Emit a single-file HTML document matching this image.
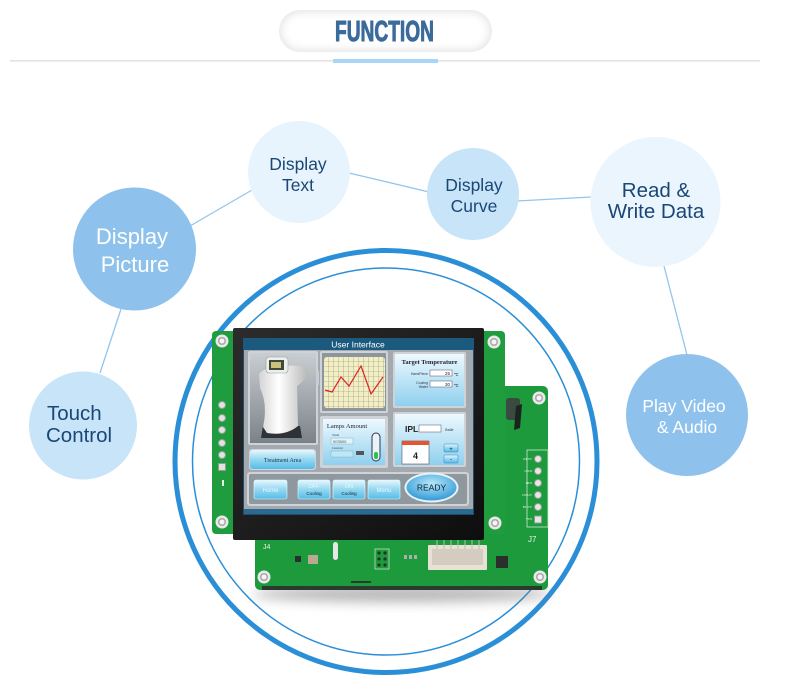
<!DOCTYPE html>
<html><head><meta charset="utf-8"><style>
html,body{margin:0;padding:0;background:#fff;}
body{width:794px;height:698px;overflow:hidden;position:relative;font-family:"Liberation Sans",sans-serif;}
.pill{position:absolute;left:279px;top:10px;width:213px;height:42px;border-radius:21px;background:#fff;box-shadow:inset 0 0 9px 2px #e4e4e4;}
svg{position:absolute;left:0;top:0;}
</style></head><body>
<div class="pill"></div>
<svg width="794" height="698" viewBox="0 0 794 698" xmlns="http://www.w3.org/2000/svg">
<defs>
<linearGradient id="gbtn" x1="0" y1="0" x2="0" y2="1"><stop offset="0" stop-color="#e6f7fd"/><stop offset="0.5" stop-color="#94d7f1"/><stop offset="1" stop-color="#55bde8"/></linearGradient>
<linearGradient id="gpan" x1="0" y1="0" x2="0" y2="1"><stop offset="0" stop-color="#eef9fe"/><stop offset="1" stop-color="#8fd0ef"/></linearGradient>
<linearGradient id="gpic" x1="0" y1="0" x2="0" y2="1"><stop offset="0" stop-color="#c9ced2"/><stop offset="1" stop-color="#7a8289"/></linearGradient>
<radialGradient id="gready" cx="0.5" cy="0.35" r="0.7"><stop offset="0" stop-color="#b6e8fa"/><stop offset="1" stop-color="#2a94d4"/></radialGradient>
<linearGradient id="gframe" x1="0" y1="0" x2="1" y2="1"><stop offset="0" stop-color="#2c2c2c"/><stop offset="1" stop-color="#0e0e0e"/></linearGradient>
<linearGradient id="gbody" x1="0" y1="0" x2="1" y2="0"><stop offset="0" stop-color="#d4d4d4"/><stop offset="0.4" stop-color="#ffffff"/><stop offset="1" stop-color="#b5b5b5"/></linearGradient>
<filter id="blur" x="-20%" y="-200%" width="140%" height="500%"><feGaussianBlur stdDeviation="6"/></filter>
<pattern id="grid" x="324" y="357" width="5" height="5" patternUnits="userSpaceOnUse"><rect width="5" height="5" fill="#f3efc4"/><path d="M5 0V5M0 5H5" stroke="#8a8670" stroke-width="0.6"/></pattern>
</defs>

<!-- header -->
<text x="335" y="41" font-family="Liberation Sans" font-weight="bold" font-size="29" fill="#3b6b9b" stroke="#3b6b9b" stroke-width="1" textLength="99" lengthAdjust="spacingAndGlyphs">FUNCTION</text>
<rect x="10" y="60" width="750" height="1.6" fill="#e3e3e3"/>
<rect x="333" y="59" width="105" height="4" fill="#a9d5f6"/>

<!-- connectors -->
<g stroke="#93c5ec" stroke-width="1.3" fill="none">
<line x1="190" y1="226" x2="252" y2="190"/>
<line x1="349" y1="173" x2="429" y2="192"/>
<line x1="517" y1="201" x2="591" y2="197"/>
<line x1="664" y1="266" x2="687" y2="355"/>
<line x1="121" y1="309" x2="100" y2="373"/>
</g>

<!-- bubbles -->
<circle cx="299" cy="172" r="51" fill="#e8f4fd"/>
<circle cx="134.5" cy="249" r="61.5" fill="#8ec2ec"/>
<circle cx="473" cy="194" r="46" fill="#c8e4f9"/>
<circle cx="655.5" cy="202" r="65" fill="#eaf5fd"/>
<circle cx="687" cy="415" r="61" fill="#8ec2ec"/>
<circle cx="83" cy="425.5" r="54" fill="#c8e4f9"/>

<g font-family="Liberation Sans, sans-serif" text-anchor="middle">
<text x="298" y="170" font-size="17.5" fill="#1a4775">Display</text>
<text x="298" y="191" font-size="17.5" fill="#1a4775">Text</text>
<text x="132" y="244" font-size="22" fill="#ffffff">Display</text>
<text x="135" y="272" font-size="22" fill="#ffffff">Picture</text>
<text x="474" y="191" font-size="17.5" fill="#1a4775">Display</text>
<text x="474" y="212" font-size="17.5" fill="#1a4775">Curve</text>
<text x="656" y="197" font-size="20.5" fill="#1a4775">Read &amp;</text>
<text x="656" y="218" font-size="20.5" fill="#1a4775">Write Data</text>
<text x="684" y="412" font-size="17.5" fill="#ffffff">Play Video</text>
<text x="687" y="433" font-size="17.5" fill="#ffffff">&amp; Audio</text>
</g>
<g font-family="Liberation Sans, sans-serif" font-size="20.5" fill="#1a4775">
<text x="47" y="420">Touch</text>
<text x="46" y="442">Control</text>
</g>

<!-- big rings -->
<circle cx="386" cy="461.5" r="211" fill="none" stroke="#2b8fd8" stroke-width="5"/>
<circle cx="386" cy="461.5" r="193.5" fill="none" stroke="#2b8fd8" stroke-width="1.5"/>

<!-- device shadow -->
<ellipse cx="402" cy="594" rx="150" ry="8" fill="#777" opacity="0.55" filter="url(#blur)"/>

<!-- back board -->
<rect x="255" y="386" width="293" height="204" rx="5" fill="#1d9a3b"/>
<rect x="262" y="586" width="280" height="4" fill="#2a3a2e"/>
<rect x="506" y="398" width="14" height="22" rx="3" fill="#3a4a40"/>
<path d="M516,406 L522,404 L520,428 L514,430 Z" fill="#1a241c"/>
<rect x="527" y="450" width="21" height="77" fill="none" stroke="#cfe8d4" stroke-width="0.8"/>
<g fill="#e6e6e6" stroke="#8a9a8c" stroke-width="1">
<circle cx="538" cy="459" r="3.5"/><circle cx="538" cy="471" r="3.5"/><circle cx="538" cy="483" r="3.5"/>
<circle cx="538" cy="495" r="3.5"/><circle cx="538" cy="507" r="3.5"/><rect x="534.5" y="516" width="7" height="7"/>
</g>
<g font-family="Liberation Serif, serif" font-size="3.5" fill="#e8f3ea" text-anchor="end">
<text x="532" y="460">NRST</text><text x="532" y="472">GND</text><text x="532" y="484">DIN</text>
<text x="532" y="496">DOUT</text><text x="532" y="508">BUSY</text><text x="532" y="520">VIN</text>
</g>
<text x="528" y="542" font-family="Liberation Sans, sans-serif" font-size="8" fill="#e8f3ea">J7</text>
<text x="263" y="549" font-family="Liberation Sans, sans-serif" font-size="7" fill="#e8f3ea">J4</text>
<rect x="428" y="545" width="59" height="25" rx="1" fill="#e8e2d6"/>
<rect x="432" y="549" width="51" height="16" fill="#d4cdbf"/>
<g stroke="#bbb" stroke-width="1"><line x1="437" y1="540" x2="437" y2="549"/><line x1="444" y1="540" x2="444" y2="549"/><line x1="451" y1="540" x2="451" y2="549"/><line x1="458" y1="540" x2="458" y2="549"/><line x1="465" y1="540" x2="465" y2="549"/><line x1="472" y1="540" x2="472" y2="549"/><line x1="479" y1="540" x2="479" y2="549"/></g>
<rect x="496" y="556" width="12" height="12" fill="#2b2f2c"/>
<rect x="308" y="555" width="10" height="9" fill="#b9a990"/>
<rect x="295" y="556" width="6" height="6" fill="#2b2f2c"/>
<rect x="333" y="542" width="5" height="18" rx="2.5" fill="#e6e6e6"/>
<rect x="375" y="549" width="14" height="20" fill="none" stroke="#cfe8d4" stroke-width="0.7"/>
<g fill="#2b2f2c"><circle cx="379" cy="553" r="1.6"/><circle cx="385" cy="553" r="1.6"/><circle cx="379" cy="559" r="1.6"/><circle cx="385" cy="559" r="1.6"/><circle cx="379" cy="565" r="1.6"/><circle cx="385" cy="565" r="1.6"/></g>
<g fill="#a8b0a8"><rect x="404" y="555" width="3" height="4"/><rect x="409" y="555" width="3" height="4"/><rect x="414" y="555" width="3" height="4"/></g>
<rect x="351" y="581" width="20" height="2" fill="#2a3a2e"/>

<!-- front board -->
<rect x="212" y="331" width="293" height="203" rx="4" fill="#1f9d3e"/>
<g fill="#e2e2e2" stroke="#8fa092" stroke-width="1">
<circle cx="222" cy="405" r="3.5"/><circle cx="222" cy="418" r="3.5"/><circle cx="222" cy="430" r="3.5"/>
<circle cx="222" cy="443" r="3.5"/><circle cx="222" cy="455" r="3.5"/><rect x="218.5" y="463.5" width="7" height="7"/>
</g>
<rect x="222" y="480" width="2" height="6" fill="#e8f3ea"/>

<!-- mounting holes -->
<g>
<circle cx="222" cy="341" r="6.5" fill="#e9e9e9"/><circle cx="222" cy="341" r="4" fill="#a8a8a8"/><circle cx="222" cy="341" r="2.5" fill="#f4f4f4"/>
<circle cx="222" cy="522" r="6.5" fill="#e9e9e9"/><circle cx="222" cy="522" r="4" fill="#a8a8a8"/><circle cx="222" cy="522" r="2.5" fill="#f4f4f4"/>
<circle cx="494" cy="342" r="6.5" fill="#e9e9e9"/><circle cx="494" cy="342" r="4" fill="#a8a8a8"/><circle cx="494" cy="342" r="2.5" fill="#f4f4f4"/>
<circle cx="495" cy="523" r="6.5" fill="#e9e9e9"/><circle cx="495" cy="523" r="4" fill="#a8a8a8"/><circle cx="495" cy="523" r="2.5" fill="#f4f4f4"/>
<circle cx="539" cy="398" r="6.5" fill="#e9e9e9"/><circle cx="539" cy="398" r="4" fill="#a8a8a8"/><circle cx="539" cy="398" r="2.5" fill="#f4f4f4"/>
<circle cx="540" cy="577" r="6.5" fill="#e9e9e9"/><circle cx="540" cy="577" r="4" fill="#a8a8a8"/><circle cx="540" cy="577" r="2.5" fill="#f4f4f4"/>
<circle cx="264" cy="577" r="6.5" fill="#e9e9e9"/><circle cx="264" cy="577" r="4" fill="#a8a8a8"/><circle cx="264" cy="577" r="2.5" fill="#f4f4f4"/>
</g>

<!-- frame & screen -->
<rect x="233" y="328" width="251" height="212" rx="2" fill="url(#gframe)"/>
<rect x="243" y="338" width="231" height="177" fill="#1e4e6c"/>
<rect x="243" y="338" width="231" height="12" fill="#1b5a7e"/>
<text x="358" y="347.5" font-family="Liberation Sans, sans-serif" font-size="8.5" fill="#fff" text-anchor="middle">User  Interface</text>
<rect x="244" y="350" width="229" height="159" fill="#a3a9af"/>

<!-- left picture panel -->
<rect x="248" y="351" width="70" height="94" rx="2" fill="#cfd3d7"/>
<rect x="250" y="353" width="66" height="90" fill="url(#gpic)"/>
<path d="M263,426 L300,426 L302,438 L261,438 Z" fill="#2e3236"/>
<path d="M259,374 Q267,364 305,366 L309,374 Q303,382 297,386 L298,426 Q286,436 267,433 L263,427 Q268,404 260,388 Z" fill="url(#gbody)"/>
<rect x="266" y="357" width="22" height="16" rx="3" fill="#eeeeee" stroke="#999" stroke-width="0.6"/>
<rect x="269" y="360" width="15" height="10" fill="#3d4a3a"/>
<rect x="271" y="362" width="10" height="6" fill="#c8c27a"/>

<rect x="249" y="449" width="67" height="21" rx="3" fill="#cfd3d7"/>
<rect x="250" y="450" width="65" height="19" rx="3" fill="url(#gbtn)"/>
<text x="282.5" y="462" font-family="Liberation Serif, serif" font-size="6" fill="#234" text-anchor="middle">Treatment Area</text>

<!-- graph panel -->
<rect x="320" y="351" width="68" height="62" rx="2" fill="#cfd3d7"/>
<rect x="322" y="353" width="64" height="58" fill="#8e969d"/>
<rect x="324" y="357" width="61" height="51" rx="3" fill="url(#grid)"/>
<polyline points="325,390 332,392 341,377 349,386 361,366 371,394 383,377" fill="none" stroke="#d22" stroke-width="1.2"/>
<rect x="316" y="371" width="3" height="14" fill="#c9cdd1"/>

<!-- lamps panel -->
<rect x="320" y="416" width="68" height="52" rx="2" fill="#cfd3d7"/>
<rect x="323" y="419" width="62" height="46" fill="url(#gpan)"/>
<text x="347" y="428" font-family="Liberation Serif, serif" font-size="6.5" fill="#223" text-anchor="middle">Lamps Amount</text>
<text x="332" y="436" font-family="Liberation Serif, serif" font-size="3.5" fill="#334">Total</text>
<rect x="331" y="438" width="22" height="6" fill="#dff3fb" stroke="#7aa" stroke-width="0.4"/>
<text x="333" y="443" font-family="Liberation Sans, sans-serif" font-size="4" fill="#456">003500</text>
<text x="332" y="449" font-family="Liberation Serif, serif" font-size="3.5" fill="#334">Current</text>
<rect x="331" y="451" width="22" height="6" fill="#bfe6f6" stroke="#7aa" stroke-width="0.4"/>
<rect x="356" y="451" width="8" height="4" fill="#555"/>
<rect x="372" y="433" width="8" height="28" rx="4" fill="#e8f4f8" stroke="#335" stroke-width="1"/>
<rect x="374" y="452" width="4" height="7" rx="2" fill="#27c44a"/>

<!-- target temp panel -->
<rect x="393" y="352" width="73" height="56" rx="2" fill="#cfd3d7"/>
<rect x="395" y="354" width="69" height="52" fill="url(#gpan)"/>
<text x="429.5" y="364" font-family="Liberation Serif, serif" font-weight="bold" font-size="6.5" fill="#223" text-anchor="middle">Target Temperature</text>
<text x="428" y="375" font-family="Liberation Sans, sans-serif" font-size="3.5" fill="#334" text-anchor="end">HandPiece</text>
<rect x="430" y="370" width="22" height="6" fill="#fff" stroke="#556" stroke-width="0.5"/>
<text x="450" y="375" font-family="Liberation Sans, sans-serif" font-size="4.5" fill="#222" text-anchor="end">25</text>
<text x="428" y="384" font-family="Liberation Sans, sans-serif" font-size="3.5" fill="#334" text-anchor="end">Cooling</text>
<text x="428" y="388" font-family="Liberation Sans, sans-serif" font-size="3.5" fill="#334" text-anchor="end">Water</text>
<rect x="430" y="381" width="22" height="6" fill="#fff" stroke="#556" stroke-width="0.5"/>
<text x="450" y="386" font-family="Liberation Sans, sans-serif" font-size="4.5" fill="#222" text-anchor="end">30</text>
<text x="454" y="376" font-family="Liberation Sans, sans-serif" font-size="4" fill="#334">℃</text>
<text x="454" y="387" font-family="Liberation Sans, sans-serif" font-size="4" fill="#334">℃</text>

<!-- IPL panel -->
<rect x="393" y="412" width="73" height="55" rx="2" fill="#cfd3d7"/>
<rect x="395" y="414" width="69" height="51" fill="url(#gpan)"/>
<text x="405" y="432" font-family="Liberation Sans, sans-serif" font-weight="bold" font-size="8.5" fill="#222">IPL</text>
<rect x="419" y="425" width="22" height="7" fill="#fff" stroke="#556" stroke-width="0.5"/>
<text x="445" y="431" font-family="Liberation Serif, serif" font-size="4" fill="#223">Joule</text>
<rect x="402" y="441" width="27" height="23" fill="#fff" stroke="#556" stroke-width="0.6"/>
<rect x="402" y="441" width="27" height="4" fill="#e5552f"/>
<text x="415.5" y="459" font-family="Liberation Sans, sans-serif" font-weight="bold" font-size="9" fill="#222" text-anchor="middle">4</text>
<rect x="444" y="444" width="14" height="8" rx="1" fill="url(#gbtn)" stroke="#3a7fb0" stroke-width="0.5"/>
<rect x="444" y="455" width="14" height="8" rx="1" fill="url(#gbtn)" stroke="#3a7fb0" stroke-width="0.5"/>
<text x="451" y="451" font-family="Liberation Sans, sans-serif" font-size="6" fill="#123" text-anchor="middle">+</text>
<text x="451" y="461" font-family="Liberation Sans, sans-serif" font-size="6" fill="#123" text-anchor="middle">-</text>

<!-- bottom bar -->
<rect x="247" y="472" width="222" height="34" rx="3" fill="#cfd3d7"/>
<rect x="249" y="474" width="218" height="30" rx="2" fill="#8f979f"/>
<g font-family="Liberation Sans, sans-serif" text-anchor="middle">
<rect x="254" y="480" width="33" height="19" rx="2" fill="url(#gbtn)" stroke="#dff" stroke-width="0.6"/>
<text x="270.5" y="492" font-size="6" fill="#e8f8ff">Home</text>
<rect x="298" y="480" width="32" height="19" rx="2" fill="url(#gbtn)" stroke="#dff" stroke-width="0.6"/>
<text x="314" y="488" font-size="5.5" fill="#e8f8ff">OFF</text>
<text x="314" y="495" font-size="4.5" fill="#123">Cooling</text>
<rect x="333" y="480" width="32" height="19" rx="2" fill="url(#gbtn)" stroke="#dff" stroke-width="0.6"/>
<text x="349" y="488" font-size="5.5" fill="#e8f8ff">ON</text>
<text x="349" y="495" font-size="4.5" fill="#123">Cooling</text>
<rect x="368" y="480" width="32" height="19" rx="2" fill="url(#gbtn)" stroke="#dff" stroke-width="0.6"/>
<text x="384" y="492" font-size="6" fill="#e8f8ff">Menu</text>
<ellipse cx="431.5" cy="487.5" rx="27" ry="15" fill="#e6f4fa"/>
<ellipse cx="431.5" cy="487.5" rx="25" ry="13" fill="url(#gready)"/>
<text x="431.5" y="490.5" font-size="8.5" fill="#102030">READY</text>
</g>
<rect x="244" y="509" width="229" height="5" fill="#2a6a90"/>
</svg>
</body></html>
